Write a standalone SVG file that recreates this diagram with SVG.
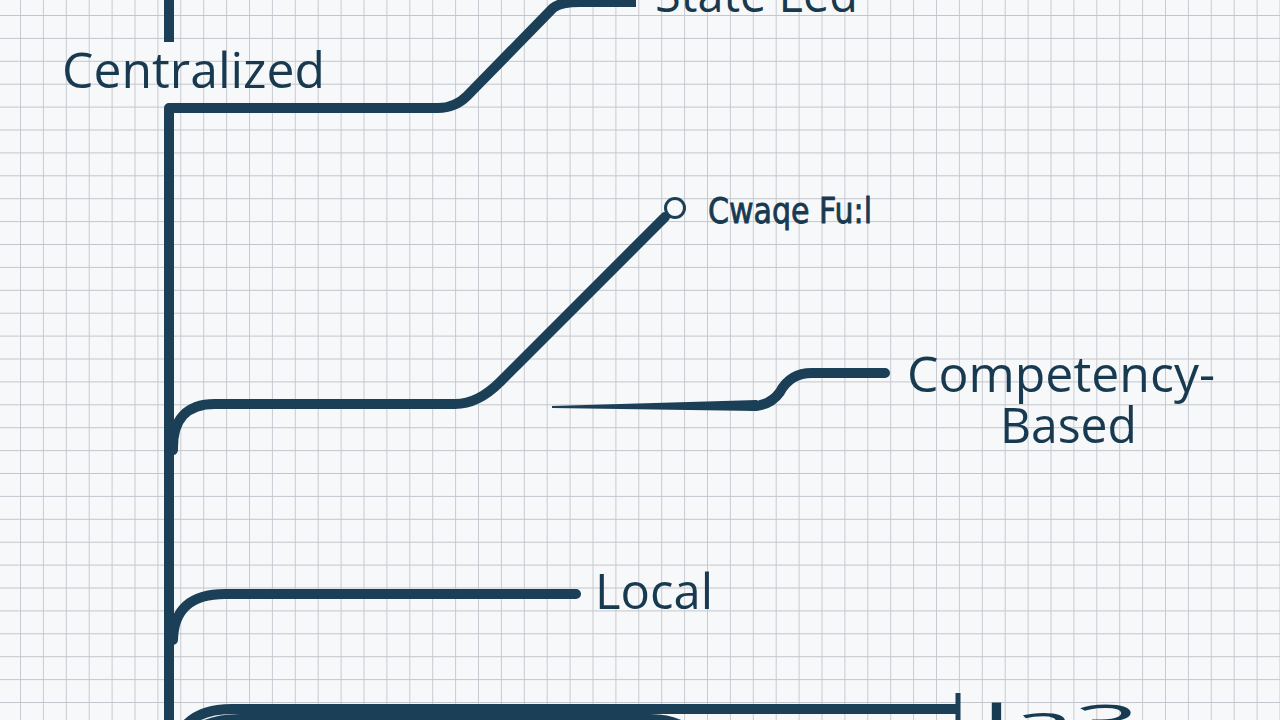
<svg xmlns="http://www.w3.org/2000/svg" width="1280" height="720" viewBox="0 0 1280 720">
  <defs>
    <pattern id="grid" patternUnits="userSpaceOnUse" x="20" y="15" width="22.9" height="22.9">
      <path d="M0 0 H22.9 M0 0 V22.9" fill="none" stroke="#c3c6cc" stroke-width="1.8"/>
    </pattern>
    <style>
      .ln { fill: none; stroke: #1b3f57; stroke-width: 10; stroke-linecap: round; stroke-linejoin: round; }
      .lbl { font-family: "Open Sans", "Liberation Sans", sans-serif; fill: #183a50; font-size: 49px; }
    </style>
  </defs>
  <rect x="0" y="0" width="1280" height="720" fill="#f7f8f9"/>
  <rect x="0" y="0" width="1280" height="720" fill="url(#grid)"/>

  <g id="connectors">
    <path class="ln" style="stroke-linecap:butt" d="M169 0 V42"/>
    <path class="ln" style="stroke-linecap:butt" d="M169 730 V108 H438 Q455 108 467 96 L553 8 Q560 2 580 2 H636"/>
    <path class="ln" d="M173 450 Q172 404 215 404 H455 Q478 404 500 382 L665 217"/>
    <path d="M552 406 L757 400 L757 411 L552 408 Z" fill="#1b3f57"/>
    <path class="ln" d="M752 406 Q770 406 780 392 Q790 373 812 373 H885"/>
    <path class="ln" d="M173 640 Q174 594 225 594 H576"/>
    <path class="ln" style="stroke-linecap:butt" d="M182 730 Q196 709 232 709 H958"/>
    <path class="ln" style="stroke-linecap:butt;stroke-width:5" d="M958 693 V722"/>
    <path class="ln" style="stroke-width:8" d="M185 740 Q200 718 240 718 H650 Q680 718 695 735"/>
  </g>

  <g id="node-state-led">
    <text class="lbl" x="655" y="12" textLength="203" lengthAdjust="spacingAndGlyphs">State Led</text>
  </g>
  <g id="node-centralized">
    <text class="lbl" x="62" y="88" textLength="263" lengthAdjust="spacingAndGlyphs">Centralized</text>
  </g>
  <g id="node-scribble">
    <circle cx="675" cy="208" r="9.5" fill="#f7f8f9" stroke="#1b3f57" stroke-width="3"/>
    <text x="708" y="223" font-family="'DejaVu Sans Condensed', 'DejaVu Sans', sans-serif" font-size="36" fill="#183a50" stroke="#183a50" stroke-width="0.8" textLength="164" lengthAdjust="spacingAndGlyphs">Cwaqe Fu:l</text>
  </g>
  <g id="node-competency">
    <text class="lbl" x="907" y="392" textLength="308" lengthAdjust="spacingAndGlyphs">Competency-</text>
    <text class="lbl" x="1000" y="443" textLength="137" lengthAdjust="spacingAndGlyphs">Based</text>
  </g>
  <g id="node-local">
    <text class="lbl" x="595" y="609" textLength="118" lengthAdjust="spacingAndGlyphs">Local</text>
  </g>
  <g id="node-bottom">
    <text class="lbl" x="982" y="740" font-size="68" textLength="158" lengthAdjust="spacingAndGlyphs">la3</text>
  </g>
</svg>
